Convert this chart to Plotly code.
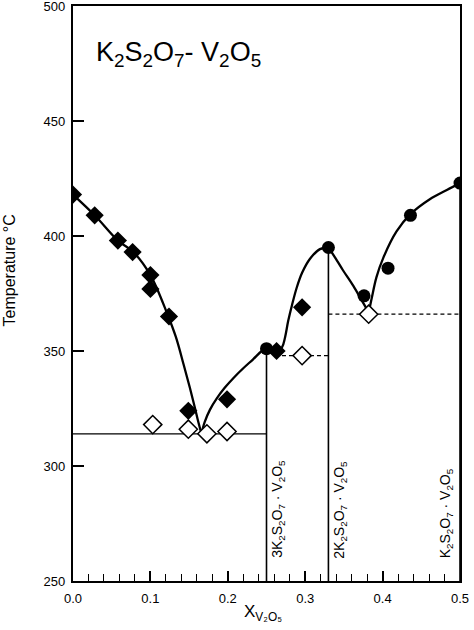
import plotly.graph_objects as go

liq_x = [0.0, 0.028, 0.058, 0.077, 0.100, 0.100, 0.124, 0.149, 0.199, 0.263, 0.296]
liq_t = [418, 409, 398, 393, 383, 377, 365, 324, 329, 350, 369]
sol_x = [0.103, 0.149, 0.173, 0.199, 0.296, 0.382]
sol_t = [318, 316, 314, 315, 348, 366]
cmp_x = [0.25, 0.33, 0.376, 0.407, 0.436, 0.50]
cmp_t = [351, 395, 374, 386, 409, 423]

# liquidus curves (drawn by hand in the original)
c1_x = [0.0, 0.028, 0.058, 0.078, 0.100, 0.122, 0.133, 0.143, 0.151, 0.157, 0.162, 0.166]
c1_t = [418, 409, 398, 393, 383, 366, 356, 344, 334, 326, 319, 314]
c2_x = [0.166, 0.170, 0.177, 0.186, 0.196, 0.208, 0.220, 0.233, 0.244, 0.25]
c2_t = [314, 319, 324.5, 329.5, 334, 338.5, 342.5, 346.5, 350, 351]
c3_x = [0.25, 0.263, 0.270, 0.274, 0.278, 0.283, 0.289, 0.296, 0.306, 0.319, 0.33]
c3_t = [351, 349.7, 351.6, 356, 363, 370, 377.5, 384, 390, 394.3, 395]
c4_x = [0.33, 0.337, 0.349, 0.362, 0.373, 0.379, 0.382]
c4_t = [395, 391.5, 385, 378.4, 372, 368.5, 366.5]
c5_x = [0.382, 0.386, 0.392, 0.401, 0.418, 0.436, 0.461, 0.483, 0.50]
c5_t = [366.5, 373, 382, 390.6, 402, 409.5, 416, 420, 423]

eutectic_t = 314
peritectic_t = [348, 366]
compounds_x = [0.25, 0.33, 0.50]
compounds_top = [351, 395, 423]
compound_labels = [
    "3K<sub>2</sub>S<sub>2</sub>O<sub>7</sub> · V<sub>2</sub>O<sub>5</sub>",
    "2K<sub>2</sub>S<sub>2</sub>O<sub>7</sub> · V<sub>2</sub>O<sub>5</sub>",
    "K<sub>2</sub>S<sub>2</sub>O<sub>7</sub> · V<sub>2</sub>O<sub>5</sub>",
]
x_ticks = [0.0, 0.1, 0.2, 0.3, 0.4, 0.5]
y_ticks = [250, 300, 350, 400, 450, 500]

FONT = "Liberation Sans, Arial, sans-serif"
fig = go.Figure()

for cx, ct in [(c1_x, c1_t), (c2_x, c2_t), (c3_x, c3_t), (c4_x, c4_t), (c5_x, c5_t)]:
    fig.add_trace(go.Scatter(x=cx, y=ct, mode="lines",
                             line=dict(color="black", width=2.3, shape="spline", smoothing=1.0)))

# solidus / eutectic lines
fig.add_trace(go.Scatter(x=[0.0, 0.25], y=[eutectic_t, eutectic_t], mode="lines", line=dict(color="black", width=1.3)))
fig.add_trace(go.Scatter(x=[0.27, 0.33], y=[peritectic_t[0]] * 2, mode="lines",
                         line=dict(color="black", width=1.2, dash="4px,3px")))
fig.add_trace(go.Scatter(x=[0.33, 0.50], y=[peritectic_t[1]] * 2, mode="lines",
                         line=dict(color="black", width=1.2, dash="4px,3px")))
for vx, vt in zip(compounds_x, compounds_top):
    fig.add_trace(go.Scatter(x=[vx, vx], y=[250, vt], mode="lines", line=dict(color="black", width=1.6)))

fig.add_trace(go.Scatter(x=liq_x, y=liq_t, mode="markers",
                         marker=dict(symbol="diamond", size=14, color="black", line=dict(width=0))))
fig.add_trace(go.Scatter(x=sol_x, y=sol_t, mode="markers",
                         marker=dict(symbol="diamond", size=14, color="white", line=dict(color="black", width=1.5))))
fig.add_trace(go.Scatter(x=cmp_x, y=cmp_t, mode="markers",
                         marker=dict(symbol="circle", size=13, color="black", line=dict(width=0))))

for i, (vx, lab) in enumerate(zip(compounds_x, compound_labels)):
    fig.add_annotation(x=vx, y=259, text=lab, textangle=-90, showarrow=False,
                       xanchor="left" if i < 2 else "right", yanchor="bottom",
                       xshift=1 if i < 2 else -3, font=dict(size=14, family=FONT, color="black"))

fig.add_annotation(x=0.027, y=479, text="K<sub>2</sub>S<sub>2</sub>O<sub>7</sub>- V<sub>2</sub>O<sub>5</sub>",
                   showarrow=False, xanchor="left", yanchor="middle",
                   font=dict(size=27, family=FONT, color="black"))

fig.add_annotation(xref="paper", yref="paper", x=-0.163, y=0.54, text="Temperature °C", textangle=-90,
                   showarrow=False, xanchor="center", yanchor="middle",
                   font=dict(size=16, family=FONT, color="black"))
fig.add_annotation(xref="paper", yref="paper", x=0.49, y=-0.056, text="X<sub>V₂O₅</sub>",
                   showarrow=False, xanchor="center", yanchor="middle",
                   font=dict(size=17, family=FONT, color="black"))

fig.update_xaxes(range=[0, 0.5], tickvals=x_ticks, ticktext=["%.1f" % v for v in x_ticks],
                 ticks="inside", ticklen=10, tickwidth=1.6, tickcolor="black",
                 minor=dict(dtick=0.02, ticks="inside", ticklen=7, tickwidth=1.3, tickcolor="black"),
                 showline=True, linecolor="black", linewidth=2.4, mirror=True, showgrid=False, zeroline=False,
                 automargin=False, ticklabeloverflow="allow", ticklabelstandoff=4,
                 tickfont=dict(size=13, family=FONT, color="black"))
fig.update_yaxes(range=[250, 500], tickvals=y_ticks, ticks="inside", ticklen=11, tickwidth=1.6,
                 tickcolor="black", showline=True, linecolor="black", linewidth=2.4, mirror=True,
                 showgrid=False, zeroline=False, automargin=False, ticklabeloverflow="allow",
                 ticklabelstandoff=3, tickfont=dict(size=13, family=FONT, color="black"))

fig.update_layout(width=474, height=630, showlegend=False, plot_bgcolor="white", paper_bgcolor="white",
                  margin=dict(l=73, r=14, t=6, b=49), font=dict(family=FONT, color="black"))

fig.write_html("out.html", config={"displayModeBar": False},
               post_script="document.body.style.margin='0';")
